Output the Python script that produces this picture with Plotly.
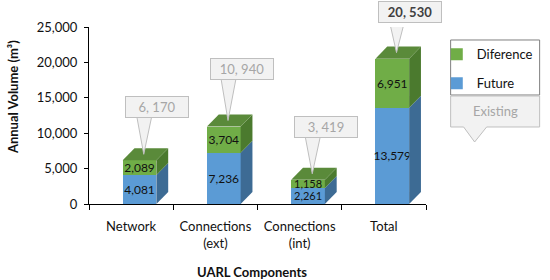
import plotly.graph_objects as go

# ---------------- data ----------------
categories = ["Network", "Connections<br>(ext)", "Connections<br>(int)", "Total"]
future = [4081, 7236, 2261, 13579]
difference = [2089, 3704, 1158, 6951]
existing = [6170, 10940, 3419, 20530]
future_labels = ["4,081", "7,236", "2,261", "13,579"]
difference_labels = ["2,089", "3,704", "1,158", "6,951"]
existing_labels = ["6, 170", "10, 940", "3, 419", "<b>20, 530</b>"]
y_ticks = [0, 5000, 10000, 15000, 20000, 25000]
y_tick_labels = ["0", "5,000", "10,000", "15,000", "20,000", "25,000"]

# ---------------- style ----------------
FONT = "Lato, 'Open Sans', sans-serif"
BLUE, BLUE_SIDE = "#5b9bd5", "#3d6b94"
GREEN, GREEN_SIDE, GREEN_TOP = "#70ad47", "#4b7a2e", "#5a8a3a"
BAR_W, BAR_OFF = 0.40, -0.10
DEPTH_X, DEPTH_Y = 0.14, 1700
LABEL_SIZES = [12, 12, 11, 12]
CALLOUT_LIFT = [37, 41, 36, 30]
CALLOUT_COLORS = ["#a6a6a6", "#a6a6a6", "#a6a6a6", "#404040"]

fig = go.Figure()
fig.add_trace(go.Bar(
    x=categories, y=future, name="Future", marker=dict(color=BLUE, line=dict(width=0)),
    width=BAR_W, offset=BAR_OFF, text=future_labels, textposition="inside",
    insidetextanchor="middle", constraintext="none", textangle=0,
    textfont=dict(family=FONT, size=LABEL_SIZES, color="#111111"),
    hoverinfo="skip", legendgroup="f", legendrank=2))
fig.add_trace(go.Bar(
    x=categories, y=difference, name="Diference", marker=dict(color=GREEN, line=dict(width=0)),
    width=BAR_W, offset=BAR_OFF, text=difference_labels, textposition="inside",
    insidetextanchor="middle", constraintext="none", textangle=0,
    textfont=dict(family=FONT, size=LABEL_SIZES, color="#111111"),
    hoverinfo="skip", legendgroup="d", legendrank=1))

shapes = []
annotations = []
for i in range(len(categories)):
    xl = i + BAR_OFF
    xr = xl + BAR_W
    f = future[i]
    t = future[i] + difference[i]
    shapes.append(dict(type="path", xref="x", yref="y", line=dict(width=0), fillcolor=BLUE_SIDE,
                       path=f"M{xr},0 L{xr+DEPTH_X},{DEPTH_Y} L{xr+DEPTH_X},{f+DEPTH_Y} L{xr},{f} Z"))
    shapes.append(dict(type="path", xref="x", yref="y", line=dict(width=0), fillcolor=GREEN_SIDE,
                       path=f"M{xr},{f} L{xr+DEPTH_X},{f+DEPTH_Y} L{xr+DEPTH_X},{t+DEPTH_Y} L{xr},{t} Z"))
    shapes.append(dict(type="path", xref="x", yref="y", line=dict(width=0), fillcolor=GREEN_TOP,
                       path=f"M{xl},{t} L{xl+DEPTH_X},{t+DEPTH_Y} L{xr+DEPTH_X},{t+DEPTH_Y} L{xr},{t} Z"))
    # callout pointer (pixel sized, anchored on top face)
    tip_x = xl + 0.25
    tip_y = existing[i] + DEPTH_Y / 2
    lift = CALLOUT_LIFT[i]
    shapes.append(dict(type="path", xref="x", yref="y", xsizemode="pixel", ysizemode="pixel",
                       xanchor=tip_x, yanchor=tip_y, fillcolor="#f2f2f2",
                       line=dict(color="#bfbfbf", width=1),
                       path=f"M-7,{lift+1} L0,0 L8,{lift+1}"))
    annotations.append(dict(x=tip_x, y=tip_y, xref="x", yref="y", text=existing_labels[i],
                            showarrow=False, xshift=13.5, yshift=lift + 10.5,
                            xanchor="center", yanchor="middle", width=62, height=20,
                            bgcolor="#f2f2f2", bordercolor="#bfbfbf", borderwidth=1, borderpad=0,
                            font=dict(family=FONT, size=13, color=CALLOUT_COLORS[i])))

# legend frame and "Existing" callout (paper anchored, pixel sized)
AX, AY = 1.0731, 0.9266
shapes.append(dict(type="rect", xref="paper", yref="paper", xsizemode="pixel", ysizemode="pixel",
                   xanchor=AX, yanchor=AY, x0=0, x1=89, y0=0, y1=-55,
                   line=dict(color="#7f7f7f", width=1), fillcolor="rgba(0,0,0,0)"))
shapes.append(dict(type="path", xref="paper", yref="paper", xsizemode="pixel", ysizemode="pixel",
                   xanchor=AX, yanchor=AY, fillcolor="#f2f2f2", line=dict(color="#bfbfbf", width=1),
                   path="M0,-56 L89,-56 L89,-87 L36,-87 L24,-102 L13,-87 L0,-87 Z"))
annotations.append(dict(x=AX, y=AY, xref="paper", yref="paper", text="Existing", showarrow=False,
                        xshift=44.5, yshift=-71.5, xanchor="center", yanchor="middle",
                        font=dict(family=FONT, size=13, color="#a6a6a6")))

# axis titles
annotations.append(dict(x=-0.225, y=0.605, xref="paper", yref="paper", text="<b>Annual Volume (m³)</b>",
                        textangle=-90, showarrow=False, xanchor="center", yanchor="middle",
                        font=dict(family=FONT, size=13, color="#111111")))
annotations.append(dict(x=0.485, y=-0.384, xref="paper", yref="paper", text="<b>UARL Components</b>",
                        showarrow=False, xanchor="center", yanchor="middle",
                        font=dict(family=FONT, size=13, color="#111111")))

fig.update_layout(
    width=550, height=280, autosize=False,
    margin=dict(l=89, r=119, t=27, b=76),
    paper_bgcolor="white", plot_bgcolor="white",
    barmode="stack",
    font=dict(family=FONT, size=13, color="#111111"),
    shapes=shapes, annotations=annotations,
    showlegend=True,
    legend=dict(x=1.032, y=0.93, xanchor="left", yanchor="top", traceorder="grouped",
                tracegroupgap=9, font=dict(family=FONT, size=13, color="#111111"),
                bgcolor="rgba(0,0,0,0)", borderwidth=0),
    xaxis=dict(type="category", range=[-0.5, 3.5], showline=True, linecolor="#000000", linewidth=1,
               ticks="outside", tickson="boundaries", ticklen=5, tickcolor="#000000",
               ticklabelstandoff=10,
               showgrid=False, zeroline=False, tickfont=dict(family=FONT, size=13, color="#111111")),
    yaxis=dict(range=[0, 25000], showline=True, linecolor="#000000", linewidth=1,
               ticks="outside", ticklen=4, tickcolor="#000000", tickvals=y_ticks,
               ticktext=y_tick_labels, showgrid=False, zeroline=False, ticklabelstandoff=4,
               tickfont=dict(family=FONT, size=13, color="#111111")),
)

fig.write_html("out.html", config={"displayModeBar": False},
               post_script="document.body.style.margin='0';")
